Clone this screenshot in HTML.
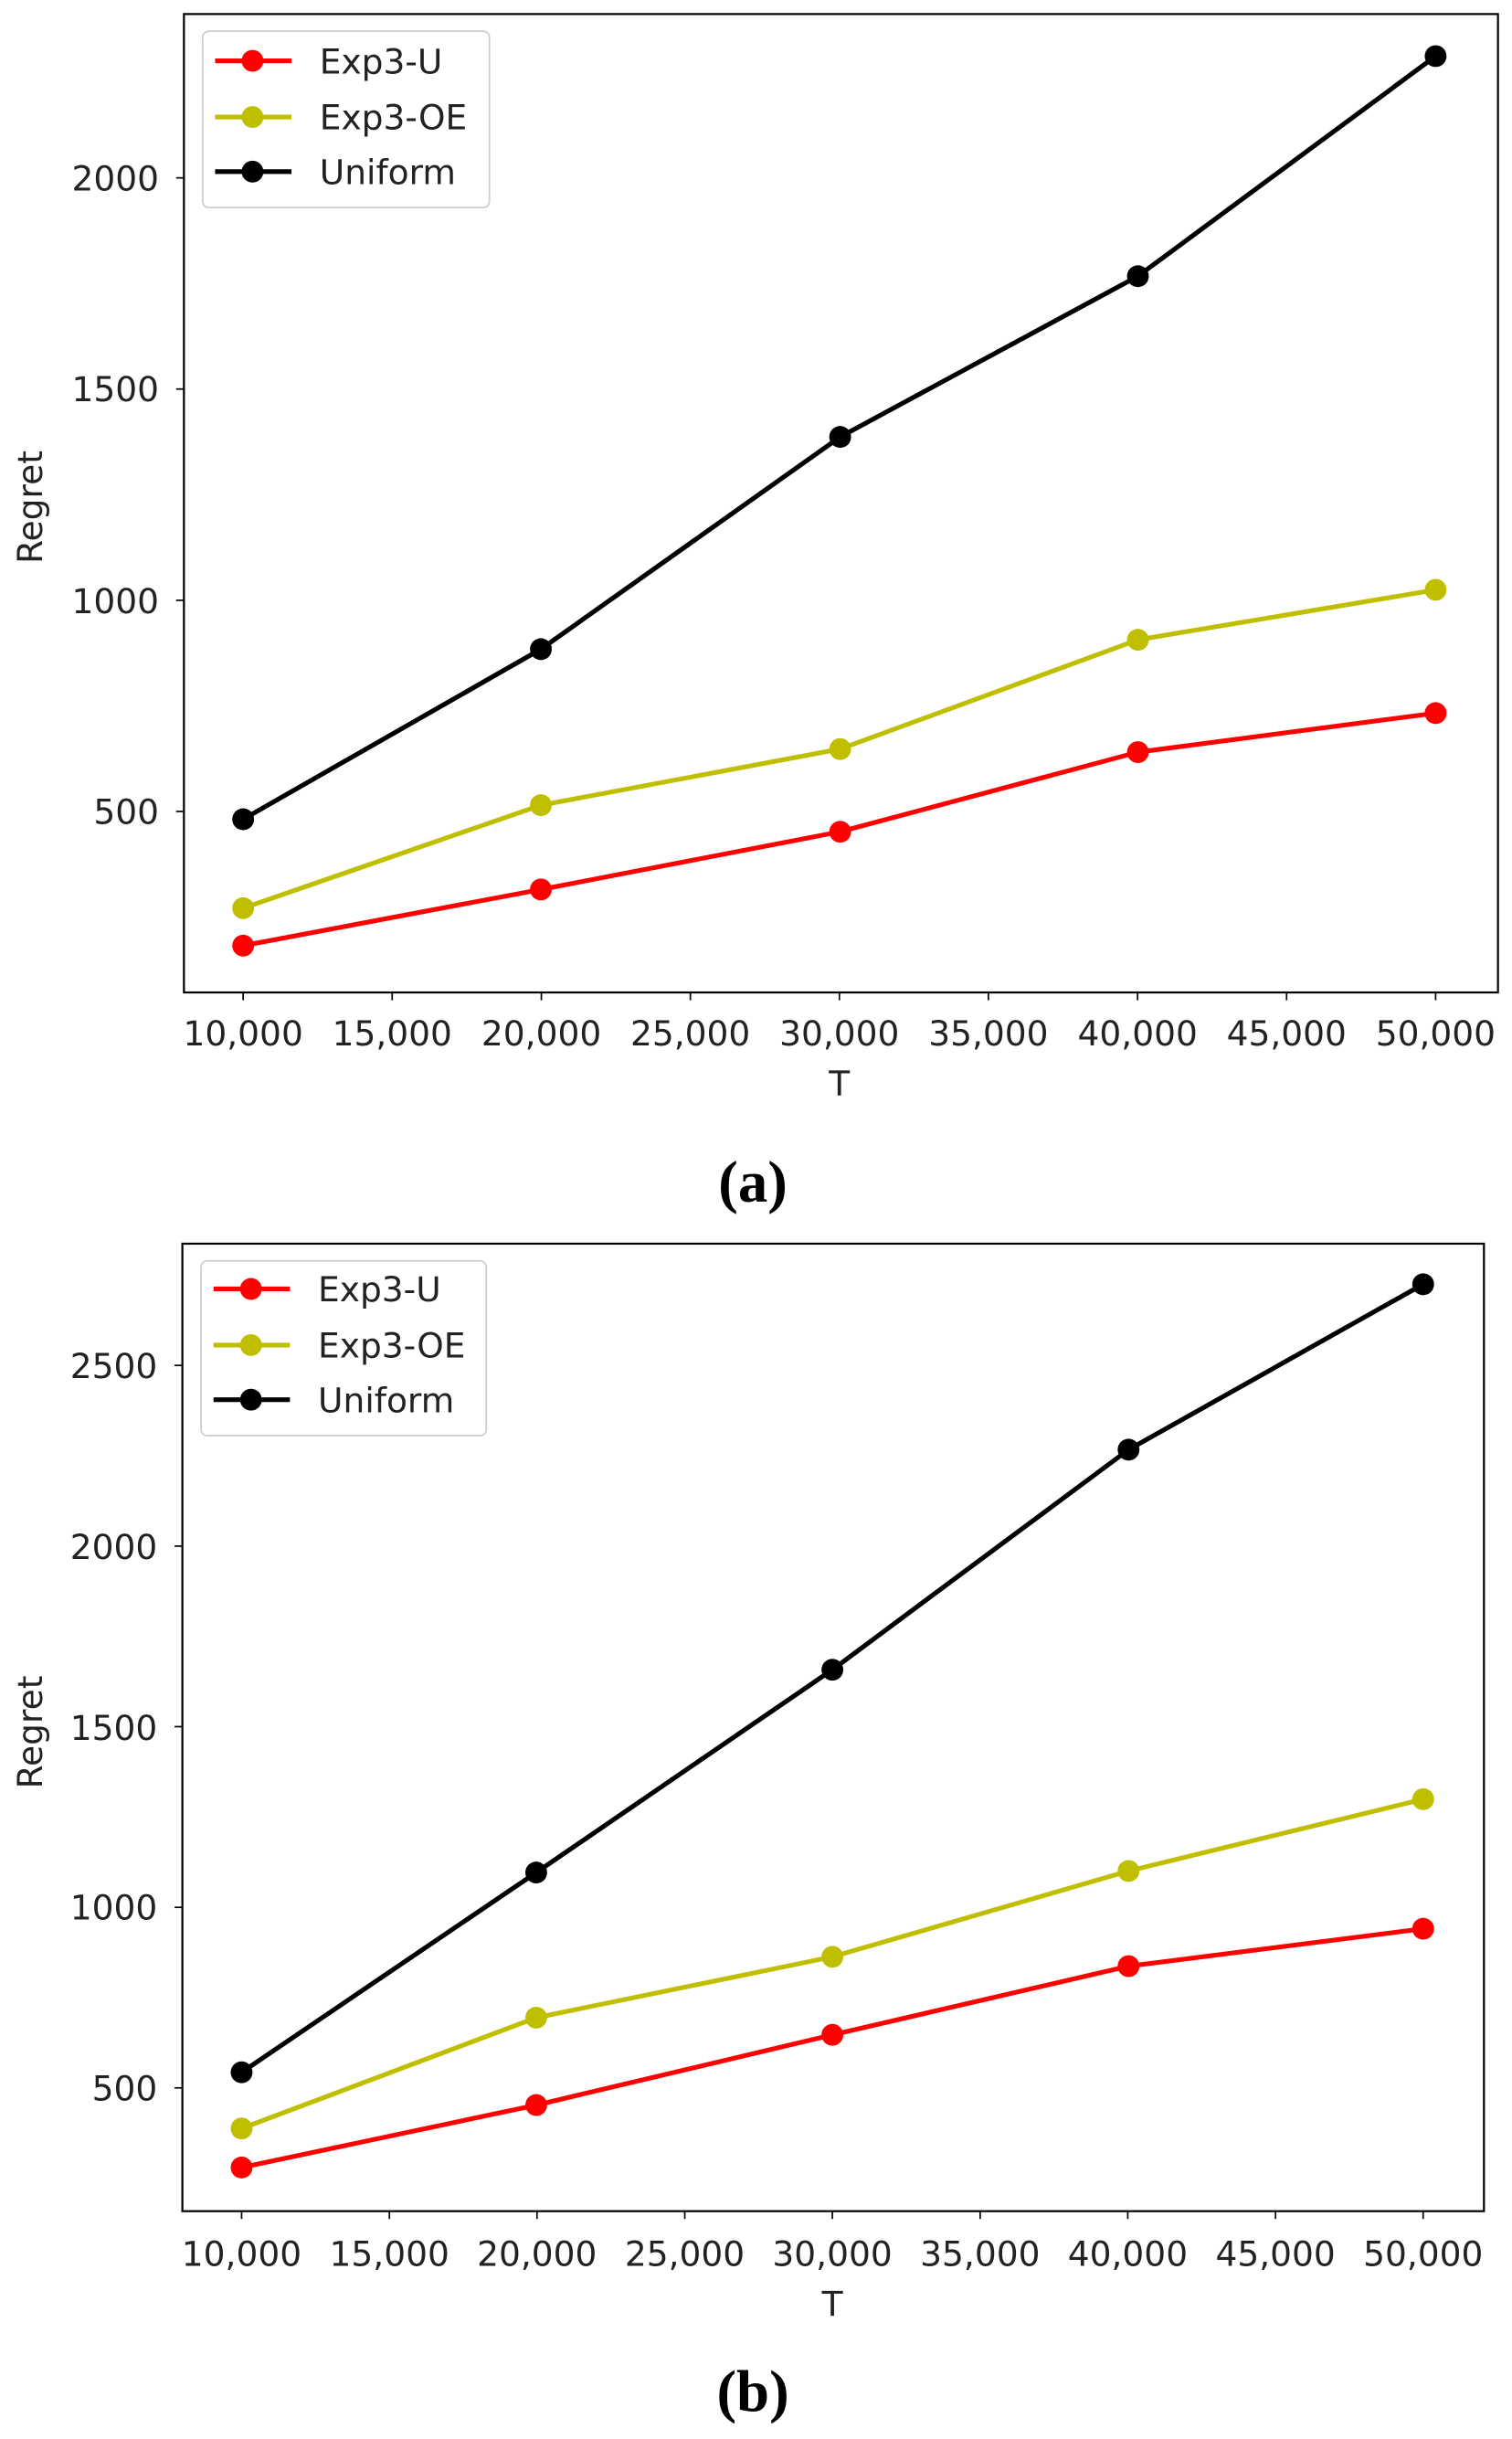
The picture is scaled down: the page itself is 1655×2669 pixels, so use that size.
<!DOCTYPE html>
<html><head><meta charset="utf-8"><style>html,body{margin:0;padding:0;background:#fff}svg{display:block}</style></head>
<body>
<svg width="1655" height="2669" viewBox="0 0 970 1563" preserveAspectRatio="none" xmlns="http://www.w3.org/2000/svg" font-family="DejaVu Sans, Liberation Sans, sans-serif">
<rect width="970" height="1563" fill="#fff"/>
<!-- Plot A -->
<g>
<rect x="118" y="9" width="843" height="627" fill="none" stroke="#000" stroke-width="1.3"/>
<g stroke="#000" stroke-width="1">
<line x1="156" y1="636" x2="156" y2="641"/><line x1="251.6" y1="636" x2="251.6" y2="641"/><line x1="347.3" y1="636" x2="347.3" y2="641"/><line x1="442.9" y1="636" x2="442.9" y2="641"/><line x1="538.5" y1="636" x2="538.5" y2="641"/><line x1="634.1" y1="636" x2="634.1" y2="641"/><line x1="729.8" y1="636" x2="729.8" y2="641"/><line x1="825.4" y1="636" x2="825.4" y2="641"/><line x1="921" y1="636" x2="921" y2="641"/>
<line x1="113" y1="114" x2="118" y2="114"/><line x1="113" y1="249.3" x2="118" y2="249.3"/><line x1="113" y1="384.7" x2="118" y2="384.7"/><line x1="113" y1="520" x2="118" y2="520"/>
</g>
<g font-size="22" fill="#222" text-anchor="middle">
<text x="156" y="670">10,000</text><text x="251.6" y="670">15,000</text><text x="347.3" y="670">20,000</text><text x="442.9" y="670">25,000</text><text x="538.5" y="670">30,000</text><text x="634.1" y="670">35,000</text><text x="729.8" y="670">40,000</text><text x="825.4" y="670">45,000</text><text x="921" y="670">50,000</text>
<text x="538.5" y="702">T</text>
</g>
<g font-size="22" fill="#222" text-anchor="end">
<text x="102" y="122">2000</text><text x="102" y="257">1500</text><text x="102" y="393">1000</text><text x="102" y="528">500</text>
</g>
<text transform="translate(27,325) rotate(-90)" font-size="22" fill="#222" text-anchor="middle">Regret</text>
<g fill="none" stroke-width="3" stroke-linejoin="round">
<polyline stroke="#000" points="156,525 347,416 539,280 730,177 921,36"/>
<polyline stroke="#bfbf00" points="156,582 347,516 539,480 730,410 921,378"/>
<polyline stroke="#ff0000" points="156,606 347,570 539,533 730,482 921,457"/>
</g>
<g fill="#000"><circle cx="156" cy="525" r="7"/><circle cx="347" cy="416" r="7"/><circle cx="539" cy="280" r="7"/><circle cx="730" cy="177" r="7"/><circle cx="921" cy="36" r="7"/></g>
<g fill="#bfbf00"><circle cx="156" cy="582" r="7"/><circle cx="347" cy="516" r="7"/><circle cx="539" cy="480" r="7"/><circle cx="730" cy="410" r="7"/><circle cx="921" cy="378" r="7"/></g>
<g fill="#ff0000"><circle cx="156" cy="606" r="7"/><circle cx="347" cy="570" r="7"/><circle cx="539" cy="533" r="7"/><circle cx="730" cy="482" r="7"/><circle cx="921" cy="457" r="7"/></g>
<rect x="130" y="20" width="184" height="113" rx="4" fill="#fff" fill-opacity="0.9" stroke="#ccc" stroke-width="1"/>
<g stroke-width="3"><line x1="138" y1="39" x2="187" y2="39" stroke="#f00"/><line x1="138" y1="75" x2="187" y2="75" stroke="#bfbf00"/><line x1="138" y1="110" x2="187" y2="110" stroke="#000"/></g>
<circle cx="162" cy="39" r="7" fill="#f00"/><circle cx="162" cy="75" r="7" fill="#bfbf00"/><circle cx="162" cy="110" r="7" fill="#000"/>
<g font-size="22" fill="#222"><text x="205" y="47">Exp3-U</text><text x="205" y="83">Exp3-OE</text><text x="205" y="118">Uniform</text></g>
<text x="483" y="770" font-family="Liberation Serif, serif" font-weight="bold" font-size="38" text-anchor="middle" fill="#000">(a)</text>
</g>
<!-- Plot B -->
<g>
<rect x="117" y="797" width="835" height="620" fill="none" stroke="#000" stroke-width="1.3"/>
<g stroke="#000" stroke-width="1">
<line x1="155" y1="1417" x2="155" y2="1422"/><line x1="249.8" y1="1417" x2="249.8" y2="1422"/><line x1="344.5" y1="1417" x2="344.5" y2="1422"/><line x1="439.3" y1="1417" x2="439.3" y2="1422"/><line x1="534" y1="1417" x2="534" y2="1422"/><line x1="628.8" y1="1417" x2="628.8" y2="1422"/><line x1="723.5" y1="1417" x2="723.5" y2="1422"/><line x1="818.3" y1="1417" x2="818.3" y2="1422"/><line x1="913" y1="1417" x2="913" y2="1422"/>
<line x1="112" y1="875" x2="117" y2="875"/><line x1="112" y1="990.8" x2="117" y2="990.8"/><line x1="112" y1="1106.5" x2="117" y2="1106.5"/><line x1="112" y1="1222.3" x2="117" y2="1222.3"/><line x1="112" y1="1338" x2="117" y2="1338"/>
</g>
<g font-size="22" fill="#222" text-anchor="middle">
<text x="155" y="1452">10,000</text><text x="249.8" y="1452">15,000</text><text x="344.5" y="1452">20,000</text><text x="439.3" y="1452">25,000</text><text x="534" y="1452">30,000</text><text x="628.8" y="1452">35,000</text><text x="723.5" y="1452">40,000</text><text x="818.3" y="1452">45,000</text><text x="913" y="1452">50,000</text>
<text x="534" y="1484">T</text>
</g>
<g font-size="22" fill="#222" text-anchor="end">
<text x="101" y="883">2500</text><text x="101" y="999">2000</text><text x="101" y="1115">1500</text><text x="101" y="1230">1000</text><text x="101" y="1346">500</text>
</g>
<text transform="translate(27,1110) rotate(-90)" font-size="22" fill="#222" text-anchor="middle">Regret</text>
<g fill="none" stroke-width="3" stroke-linejoin="round">
<polyline stroke="#000" points="155,1328 344,1200 534,1070 724,929 913,823"/>
<polyline stroke="#bfbf00" points="155,1364 344,1293 534,1254 724,1199 913,1153"/>
<polyline stroke="#ff0000" points="155,1389 344,1349 534,1304 724,1260 913,1236"/>
</g>
<g fill="#000"><circle cx="155" cy="1328" r="7"/><circle cx="344" cy="1200" r="7"/><circle cx="534" cy="1070" r="7"/><circle cx="724" cy="929" r="7"/><circle cx="913" cy="823" r="7"/></g>
<g fill="#bfbf00"><circle cx="155" cy="1364" r="7"/><circle cx="344" cy="1293" r="7"/><circle cx="534" cy="1254" r="7"/><circle cx="724" cy="1199" r="7"/><circle cx="913" cy="1153" r="7"/></g>
<g fill="#ff0000"><circle cx="155" cy="1389" r="7"/><circle cx="344" cy="1349" r="7"/><circle cx="534" cy="1304" r="7"/><circle cx="724" cy="1260" r="7"/><circle cx="913" cy="1236" r="7"/></g>
<rect x="129" y="808" width="183" height="112" rx="4" fill="#fff" fill-opacity="0.9" stroke="#ccc" stroke-width="1"/>
<g stroke-width="3"><line x1="137" y1="826" x2="186" y2="826" stroke="#f00"/><line x1="137" y1="862" x2="186" y2="862" stroke="#bfbf00"/><line x1="137" y1="897" x2="186" y2="897" stroke="#000"/></g>
<circle cx="161" cy="826" r="7" fill="#f00"/><circle cx="161" cy="862" r="7" fill="#bfbf00"/><circle cx="161" cy="897" r="7" fill="#000"/>
<g font-size="22" fill="#222"><text x="204" y="834">Exp3-U</text><text x="204" y="870">Exp3-OE</text><text x="204" y="905">Uniform</text></g>
<text x="483" y="1545" font-family="Liberation Serif, serif" font-weight="bold" font-size="38" text-anchor="middle" fill="#000">(b)</text>
</g>
</svg>
</body></html>
